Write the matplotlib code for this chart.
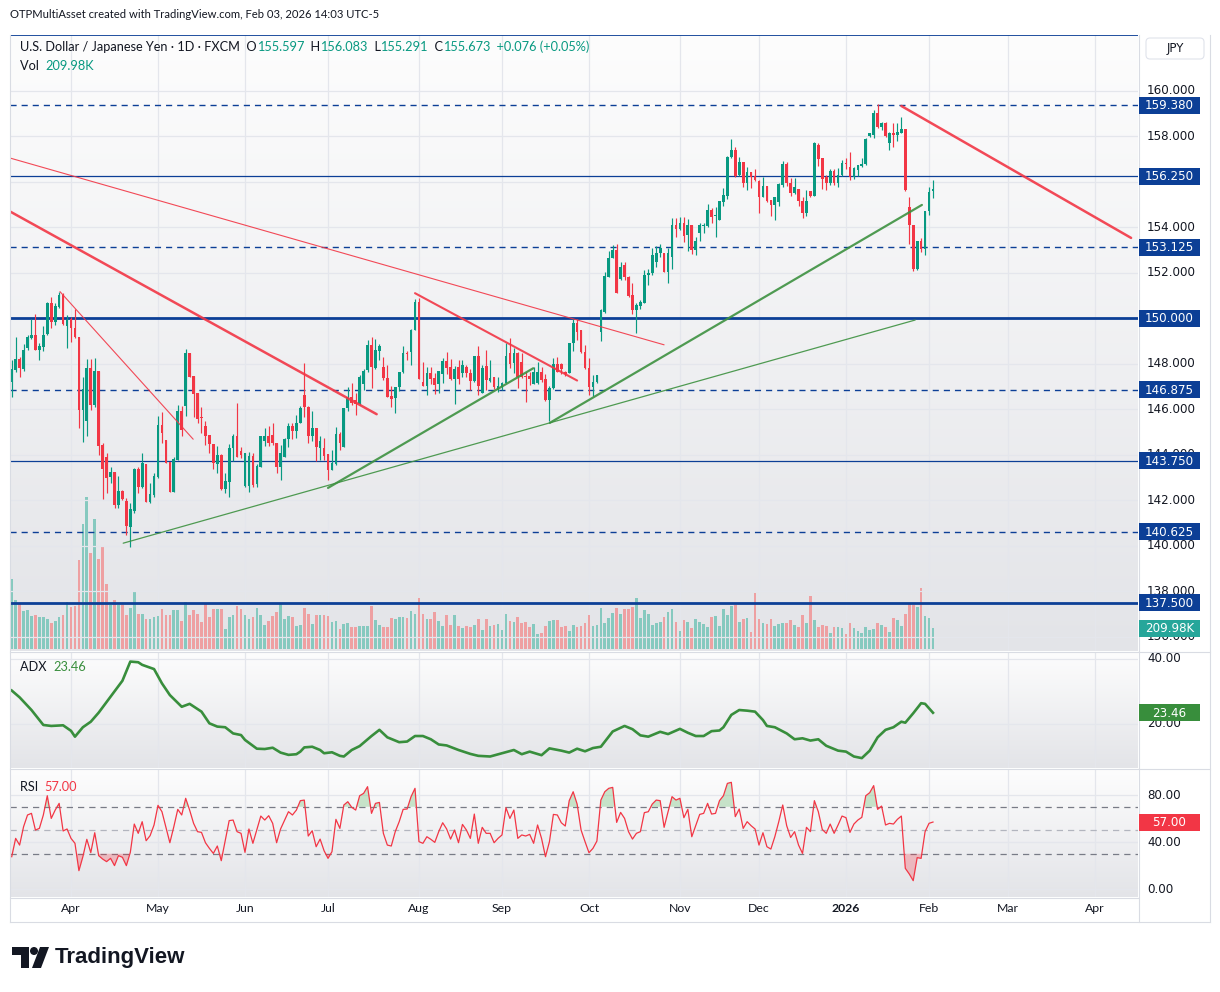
import numpy as np
import matplotlib.pyplot as plt
import matplotlib.transforms as mtransforms
from matplotlib.colors import LinearSegmentedColormap
from matplotlib.patches import Rectangle, Polygon, Circle, FancyBboxPatch
from matplotlib.lines import Line2D

# ---------------- data (USDJPY daily, FXCM, 2025-03-11 .. 2026-02-03) ----------------
opens = [147.22, 147.73, 148.20, 147.78, 148.69, 149.13, 149.27, 148.61, 148.76, 149.32,
         150.69, 149.86, 150.52, 151.03, 149.68, 149.96, 149.57, 149.20, 145.98, 145.51,
         147.84, 146.20, 147.70, 144.44, 143.92, 143.02, 143.27, 141.80, 142.43, 141.99,
         140.85, 141.55, 143.37, 142.58, 143.59, 141.95, 142.24, 143.05, 145.32, 144.66,
         143.71, 142.39, 143.78, 145.91, 146.13, 148.47, 147.47, 146.74, 145.63, 145.25,
         144.88, 144.48, 143.60, 144.00, 142.49, 142.83, 144.30, 144.84, 144.19, 142.64,
         142.65, 143.96, 142.73, 143.49, 144.59, 144.84, 144.88, 144.51, 143.46, 143.93,
         144.69, 145.28, 145.07, 145.42, 146.64, 146.10, 144.84, 145.17, 144.29, 144.29,
         144.04, 143.34, 143.60, 144.92, 144.37, 146.05, 146.54, 146.42, 146.24, 147.12,
         147.74, 148.83, 147.81, 148.59, 147.85, 147.37, 146.59, 146.49, 147.00, 147.66,
         148.50, 148.54, 149.47, 150.74, 147.22, 147.03, 147.62, 147.37, 147.12, 147.56,
         148.15, 147.85, 147.33, 147.85, 147.62, 147.85, 147.62, 147.27, 148.35, 146.74,
         147.91, 147.27, 147.44, 146.86, 147.00, 147.18, 148.47, 148.03, 148.50, 148.10,
         147.47, 147.47, 147.12, 147.15, 147.66, 147.33, 146.42, 146.93, 148.00, 148.00,
         147.66, 147.62, 148.91, 149.82, 149.47, 148.54, 147.81, 147.00, 147.22, 149.42,
         150.30, 151.84, 152.64, 153.01, 151.72, 152.35, 151.84, 151.03, 150.37, 150.55,
         150.70, 151.91, 151.99, 152.50, 152.86, 152.89, 152.06, 152.69, 154.11, 153.92,
         154.18, 153.67, 154.11, 153.01, 153.74, 154.07, 154.07, 154.77, 154.51, 154.33,
         155.14, 155.38, 157.08, 157.41, 156.31, 156.89, 155.97, 156.45, 156.26, 156.06,
         155.36, 155.82, 155.21, 154.99, 155.14, 155.87, 156.79, 155.94, 155.53, 155.68,
         155.18, 154.65, 155.62, 155.39, 157.63, 157.04, 156.21, 155.94, 156.50, 155.94,
         156.31, 156.85, 156.67, 156.21, 156.53, 156.70, 156.79, 158.02, 158.07, 159.02,
         158.40, 158.61, 157.73, 158.14, 158.07, 158.17, 158.31, 154.92, 154.11, 152.16,
         153.42, 153.04, 154.74, 155.597]
highs = [148.17, 149.17, 148.29, 148.88, 149.27, 149.96, 150.18, 148.91, 149.67, 150.74,
         150.96, 150.69, 151.18, 151.13, 150.15, 150.05, 150.40, 149.20, 147.41, 148.20,
         148.20, 148.25, 147.70, 144.51, 144.07, 143.48, 143.27, 143.08, 142.46, 142.09,
         141.90, 143.41, 143.48, 144.07, 143.60, 142.75, 143.19, 145.71, 145.90, 144.66,
         143.71, 143.93, 146.20, 146.15, 148.66, 148.47, 147.47, 146.74, 146.10, 145.51,
         144.88, 144.48, 144.40, 144.05, 143.19, 144.48, 144.92, 146.30, 144.34, 144.07,
         144.15, 144.07, 143.60, 144.84, 145.17, 145.28, 145.42, 144.51, 144.44, 144.73,
         145.39, 145.42, 145.76, 146.15, 148.03, 146.13, 145.95, 145.17, 144.81, 144.73,
         144.04, 144.22, 145.24, 145.02, 146.05, 146.97, 147.15, 146.71, 147.52, 147.77,
         149.03, 149.17, 149.08, 148.88, 148.29, 147.96, 147.03, 147.00, 147.66, 148.79,
         148.59, 149.52, 150.84, 150.89, 148.10, 147.85, 147.85, 147.59, 147.71, 148.25,
         148.54, 148.20, 147.91, 148.17, 148.17, 147.96, 147.77, 148.35, 148.79, 147.96,
         148.62, 148.18, 147.44, 147.44, 147.22, 148.91, 149.13, 148.69, 148.54, 148.47,
         147.66, 147.66, 147.85, 148.10, 147.88, 147.56, 147.03, 148.25, 148.32, 148.03,
         147.71, 148.94, 149.96, 149.96, 149.50, 148.84, 148.25, 147.52, 147.52, 150.40,
         152.06, 152.98, 153.23, 153.27, 152.50, 152.50, 151.87, 151.55, 150.70, 150.81,
         152.13, 152.16, 153.09, 153.19, 153.28, 152.89, 153.09, 154.40, 154.40, 154.45,
         154.48, 154.36, 154.11, 153.57, 154.18, 154.18, 155.03, 154.84, 154.89, 155.18,
         155.72, 157.14, 157.88, 157.55, 157.08, 156.89, 156.67, 156.45, 156.56, 156.09,
         156.21, 155.82, 155.21, 155.33, 155.97, 156.94, 156.89, 156.16, 156.16, 155.68,
         155.36, 155.65, 155.62, 157.77, 157.70, 157.04, 156.31, 156.56, 156.56, 156.60,
         156.97, 157.04, 157.33, 156.67, 156.75, 157.04, 157.92, 158.17, 159.16, 159.43,
         158.65, 158.65, 158.21, 158.58, 158.58, 158.87, 158.31, 155.36, 154.11, 153.42,
         153.52, 154.74, 155.77, 156.083]
lows = [146.56, 147.66, 147.44, 147.70, 148.61, 149.08, 148.61, 148.17, 148.58, 149.27,
        149.57, 149.71, 150.45, 149.71, 148.69, 148.98, 149.13, 145.17, 144.58, 144.83,
        145.98, 146.12, 144.00, 142.06, 142.31, 142.78, 141.65, 141.65, 142.02, 140.48,
        139.94, 141.46, 142.31, 142.53, 141.95, 141.90, 142.17, 142.97, 144.51, 143.63,
        142.39, 142.39, 143.78, 144.84, 145.71, 147.41, 145.66, 145.39, 144.95, 144.44,
        144.07, 143.37, 143.19, 142.46, 142.32, 142.17, 143.75, 143.93, 143.85, 142.61,
        142.39, 142.61, 142.61, 143.49, 144.40, 144.40, 144.44, 143.22, 142.90, 143.93,
        144.37, 144.69, 144.73, 145.39, 145.66, 144.51, 144.59, 143.75, 143.78, 143.78,
        142.90, 143.34, 143.56, 144.22, 144.37, 145.91, 146.20, 145.76, 146.20, 146.86,
        147.66, 146.93, 147.77, 148.17, 147.30, 146.56, 146.12, 145.86, 146.83, 147.62,
        148.17, 147.96, 149.47, 147.33, 147.03, 146.64, 147.12, 146.68, 146.74, 147.18,
        147.56, 147.30, 146.24, 147.12, 147.44, 147.44, 146.86, 147.22, 146.64, 146.71,
        146.86, 147.22, 146.89, 146.78, 146.86, 147.15, 147.81, 147.59, 146.93, 147.37,
        146.34, 147.08, 147.12, 147.12, 147.22, 146.39, 145.47, 146.89, 147.66, 147.56,
        147.47, 147.59, 148.59, 149.05, 148.50, 147.77, 146.64, 146.59, 147.18, 149.02,
        150.26, 151.81, 152.64, 151.11, 151.69, 151.69, 150.96, 150.20, 149.38, 150.40,
        150.67, 151.47, 151.91, 152.25, 152.72, 152.02, 151.55, 152.16, 153.60, 153.89,
        153.38, 152.98, 152.83, 152.79, 153.42, 153.77, 154.04, 154.18, 153.60, 154.33,
        154.95, 155.24, 157.04, 156.23, 156.26, 155.79, 155.65, 155.72, 156.06, 154.65,
        155.33, 155.14, 154.51, 154.33, 154.95, 155.79, 155.82, 155.39, 155.47, 154.94,
        154.40, 154.51, 155.36, 155.39, 156.70, 155.68, 155.65, 155.87, 155.87, 155.77,
        156.26, 156.56, 156.09, 156.12, 156.26, 156.67, 156.75, 157.99, 157.92, 158.36,
        158.29, 157.99, 157.41, 157.55, 157.80, 158.14, 155.62, 153.27, 152.10, 152.13,
        152.94, 152.79, 154.55, 155.291]
closes = [147.76, 148.20, 147.81, 148.61, 149.17, 149.27, 148.61, 148.79, 149.27, 150.69,
          149.86, 150.55, 151.03, 149.76, 149.93, 149.57, 149.20, 145.98, 146.90, 147.84,
          146.20, 147.70, 144.39, 143.37, 143.00, 143.27, 141.80, 142.43, 142.06, 140.88,
          141.61, 143.37, 142.58, 143.66, 141.95, 142.28, 143.08, 145.32, 144.95, 143.66,
          142.39, 143.81, 145.91, 145.10, 148.47, 147.44, 146.68, 145.57, 145.61, 144.84,
          144.48, 143.63, 144.00, 142.49, 142.87, 144.30, 144.84, 143.93, 144.00, 144.07,
          143.96, 142.68, 143.52, 144.84, 144.84, 144.54, 144.51, 143.46, 144.07, 144.69,
          145.28, 145.07, 145.42, 146.05, 146.10, 144.84, 145.17, 144.34, 144.63, 143.96,
          143.34, 143.66, 144.92, 144.51, 146.05, 146.54, 146.30, 146.24, 147.44, 147.71,
          148.83, 147.85, 148.61, 148.79, 147.37, 146.56, 146.48, 147.00, 147.66, 148.50,
          148.44, 149.49, 150.74, 147.33, 147.03, 147.62, 147.33, 147.08, 147.71, 148.15,
          147.81, 147.33, 147.77, 147.33, 147.96, 147.62, 147.27, 148.35, 147.03, 147.81,
          147.30, 147.37, 147.00, 147.03, 147.18, 148.35, 148.00, 148.50, 147.44, 147.44,
          147.44, 147.33, 147.66, 147.66, 147.30, 146.42, 146.93, 148.00, 147.66, 147.77,
          147.56, 148.91, 149.82, 149.42, 148.54, 147.81, 147.00, 147.22, 147.52, 150.35,
          151.87, 152.64, 153.01, 151.11, 152.25, 151.84, 150.99, 150.37, 150.59, 150.74,
          151.91, 151.99, 152.79, 152.86, 153.09, 152.06, 152.89, 154.11, 153.92, 154.18,
          153.63, 154.11, 153.01, 153.42, 154.11, 154.11, 154.77, 154.48, 154.51, 155.18,
          155.43, 157.11, 157.41, 156.26, 156.89, 155.94, 156.45, 156.21, 156.09, 155.36,
          155.82, 155.18, 154.99, 155.33, 155.91, 156.79, 155.94, 155.53, 155.77, 155.18,
          154.65, 155.18, 155.39, 157.70, 156.99, 156.12, 155.94, 156.50, 155.94, 156.31,
          156.85, 156.79, 156.23, 156.60, 156.75, 156.79, 157.88, 158.14, 159.02, 158.40,
          158.61, 158.02, 158.14, 158.07, 158.21, 158.31, 155.65, 154.11, 152.16, 153.42,
          153.04, 154.74, 155.58, 155.673]
volumes_k = [700, 490, 463, 380, 390, 330, 340, 323, 323, 300, 263, 280, 323, 340, 473, 423,
             430, 890, 1250, 1520, 963, 1300, 897, 1030, 650, 440, 490, 440, 440, 340, 413, 583,
             350, 350, 300, 300, 317, 330,
             400, 340, 340, 390, 390, 280, 470, 340, 390, 350, 270, 450, 320, 400, 400, 400,
             200, 320, 340, 430, 400, 340, 300, 320, 410, 340, 240, 280, 330, 370, 450, 300,
             330, 320, 230, 240, 410, 350, 250, 340, 340, 340, 330, 270, 280, 200, 250, 260,
             220, 220, 230, 230, 230, 430, 290, 240, 220, 220, 310, 300, 320, 320, 310, 380,
             350, 510, 350, 300, 300, 370, 280, 230, 340, 240, 340, 230, 210, 230,
             220, 240, 300, 190, 300, 230, 240, 250, 190, 350, 280, 270, 320, 260, 270, 220,
             250, 150, 160, 230, 280, 290, 290, 220, 230, 180, 240, 220, 230, 260, 340, 230,
             240, 410, 260, 310, 360, 410, 350, 400, 400,
             420, 510, 310, 390, 350, 240, 260, 270, 320, 370, 400, 270, 180, 290, 270, 210,
             300, 270, 250, 220, 320, 330, 230, 400, 340, 430, 440, 270, 300, 310, 170, 560,
             300, 260, 250, 300, 230, 250, 260, 260, 290, 240, 220, 340, 260, 530, 290, 220,
             240, 230, 160, 220, 220, 210, 150, 260, 210, 180, 160, 220, 190, 200, 260, 240,
             220, 170, 310, 290, 230, 350, 460, 440, 420, 610, 330, 310, 209.98]

adx_bars = [0, 2, 5, 8, 10, 13, 15, 16, 18, 20, 22, 25, 28, 30, 32, 33, 36, 38, 40, 43, 45,
            48, 50, 52, 54, 56, 58, 59, 62, 64, 66, 68, 70, 72, 73, 74, 76, 78, 79, 81, 83,
            84, 86, 88, 91, 93, 95, 98, 100, 102, 104, 106, 108, 110, 113, 116, 118, 121, 124,
            127, 129, 131, 134, 136, 139, 141, 143, 145, 147, 149, 152, 155, 157, 159, 161,
            164, 166, 169, 171, 173, 175, 177, 179, 180, 182, 184, 186, 188, 190, 191, 193,
            196, 198, 200, 202, 204, 206, 209, 211, 213, 215, 217, 219, 221, 223, 225, 226,
            228, 230, 231, 233]
adx_vals = [30.3, 28.2, 24.3, 19.7, 19.4, 19.6, 17.9, 16.1, 19.0, 20.7, 23.5, 28.4, 33.3,
            39.2, 39.0, 38.2, 36.9, 32.5, 28.9, 25.3, 26.2, 23.8, 20.2, 19.2, 19.0, 17.1, 16.6,
            15.1, 12.4, 12.3, 12.7, 11.2, 10.5, 10.7, 11.5, 12.8, 13.0, 12.0, 11.0, 11.3, 10.2,
            10.0, 12.0, 13.2, 16.3, 18.2, 15.9, 14.4, 14.6, 16.3, 16.3, 15.3, 13.7, 13.4, 12.0,
            10.8, 10.2, 10.0, 11.0, 12.0, 10.7, 11.5, 10.4, 12.5, 11.8, 11.2, 12.4, 11.6, 12.6,
            13.0, 17.7, 19.4, 18.4, 16.5, 16.1, 17.6, 16.9, 18.5, 17.3, 16.3, 16.3, 17.8, 18.0,
            19.0, 22.8, 24.3, 24.1, 23.8, 21.2, 19.4, 19.0, 17.1, 15.3, 15.6, 14.9, 15.3, 13.3,
            11.8, 11.5, 10.0, 9.5, 11.8, 15.9, 18.2, 19.0, 20.7, 20.4, 23.3, 26.4, 26.2, 23.46]

rsi_bars = [b for b in range(234) if b not in (39, 54, 62, 69)]
rsi_vals = [27.5, 43.1, 37.4, 53.0, 63.0, 64.4, 50.2, 51.6, 63.0, 79.4, 60.1, 67.2, 72.9,
            49.4, 51.1, 43.1, 38.9, 15.6, 27.5, 42.3, 31.0, 47.9, 28.4, 25.5, 23.3, 26.1, 19.9,
            28.4, 27.0, 19.9, 31.2, 55.3, 47.4, 57.3, 41.1, 45.4, 54.5, 71.2, 65.8,
            39.4, 53.0, 67.8, 63.0, 77.2, 67.2, 55.9, 48.8, 48.2, 39.4, 34.6, 30.3, 36.6, 24.1,
            58.2, 58.7, 48.8, 47.4, 31.2, 51.1, 38.9,
            62.1, 58.7, 62.4, 55.9, 39.4, 51.1,
            65.8, 63.0, 67.2, 75.2, 75.7, 45.1, 49.6, 36.0, 42.5, 32.6, 26.1, 31.8, 59.3, 51.6,
            71.5, 74.3, 69.5, 67.2, 79.4, 81.4, 87.1, 64.4, 72.9, 73.7, 47.4, 37.4, 36.6, 48.8,
            57.3, 67.8, 68.1, 78.6, 85.7, 40.3, 38.9, 44.5, 42.3, 39.7, 48.8, 56.4, 51.1, 42.5,
            50.2, 39.4, 55.0, 50.2, 43.1, 63.8,
            38.9, 52.5, 47.4, 47.4, 39.4, 43.1, 46.0, 69.2, 60.1, 67.2, 43.1, 46.0, 45.1, 46.5,
            38.9, 54.5, 43.1, 27.5, 40.3, 63.5, 63.0, 56.4, 53.6, 75.2, 82.8, 72.3, 50.2, 40.3,
            30.9, 34.6, 40.8, 75.7, 82.8, 85.7, 86.5, 56.7, 65.2, 60.1, 48.8, 42.5, 47.4, 48.8,
            65.0, 65.8, 72.3, 75.7, 75.2, 52.5, 65.8, 78.6, 75.7, 77.2, 60.7, 67.8, 44.5, 53.9,
            63.5, 64.4, 72.9, 63.8, 64.4, 75.2, 79.4, 89.9, 90.8, 61.6, 68.1, 51.6, 57.3, 53.9,
            51.1, 37.4, 47.9, 36.0, 34.0, 44.5, 57.3, 71.5, 53.9, 43.9, 48.8, 37.4, 30.3, 52.5,
            48.8, 75.2, 65.8, 50.7, 47.4, 55.3, 47.4, 54.5, 62.1, 60.7, 48.2, 55.3, 58.7, 61.0,
            79.4, 82.0, 88.0, 67.8, 70.6, 54.5, 55.9, 55.3, 59.3, 62.1, 17.6, 12.8, 7.1, 26.7,
            26.1, 48.8, 55.9, 57.0]

# octave levels (3.125 steps)
levels_major = [162.5, 150.0, 137.5]
levels_minor = [156.25, 143.75]
levels_dashed = [159.38, 153.125, 146.875, 140.625]

# drawn trend lines: (bar, price) anchors
red_heavy = [[(-0.4, 154.70), (92.3, 145.79)], [(225.0, 159.34), (283.1, 153.54)]]
red_medium = [[(102.0, 151.11), (143.0, 147.27)]]
red_light = [[(-0.4, 157.05), (165.0, 148.84)], [(12.2, 151.18), (45.9, 144.69)]]
green_heavy = [[(80.0, 142.55), (131.9, 147.81)], [(136.1, 145.41), (230.2, 154.99)]]
green_light = [[(28.2, 140.12), (136.1, 145.41)], [(136.1, 145.41), (228.5, 149.93)]]

month_labels = ['Apr', 'May', 'Jun', 'Jul', 'Aug', 'Sep', 'Oct', 'Nov', 'Dec', '2026',
                'Feb', 'Mar', 'Apr']
month_bars = [15, 37, 59, 80, 103, 124, 146, 169, 189, 211, 232, 252, 274]

price_grid = [160, 158, 156, 154, 152, 150, 148, 146, 144, 142, 140, 138, 136]
price_labels = [160, 158, 154, 152, 148, 146, 144, 142, 140, 138, 136]

# ---------------- figure ----------------
W, H = 1220, 992
fig = plt.figure(figsize=(W / 100, H / 100), dpi=100)
fig.patch.set_facecolor('white')
ID = mtransforms.IdentityTransform()
PX = mtransforms.Affine2D().scale(1, -1).translate(0, H)   # pixel coords, y from top

UP, DOWN = '#089981', '#f23645'
NAVY = '#0c3f96'
TXT = '#131722'
GRID = '#e4e6ec'
BORDER = '#d9dce3'
NUMFONT = 'DejaVu Sans'
UIFONT = ['Lato', 'DejaVu Sans']


def px_rect(x0, y0, x1, y1):
    return [x0 / W, 1 - y1 / H, (x1 - x0) / W, (y1 - y0) / H]


ax_vol = fig.add_axes(px_rect(10, 35, 1138, 651))
ax = fig.add_axes(px_rect(10, 35, 1138, 651), sharex=ax_vol)
ax_adx = fig.add_axes(px_rect(10, 652, 1138, 768), sharex=ax_vol)
ax_rsi = fig.add_axes(px_rect(10, 770, 1138, 897), sharex=ax_vol)
ax.patch.set_visible(False)

pane_cmap = LinearSegmentedColormap.from_list('pane', ['#e3e4e8', '#fdfdfd'])
for a in (ax_vol, ax_adx, ax_rsi):
    a.imshow(np.linspace(0, 1, 256).reshape(-1, 1), cmap=pane_cmap, extent=(0, 1, 0, 1),
             transform=a.transAxes, aspect='auto', origin='lower', zorder=-10,
             interpolation='bicubic')

XMIN, XMAX = -0.43, 284.85
for a in (ax_vol, ax, ax_adx, ax_rsi):
    a.set_xlim(XMIN, XMAX)
    a.set_xticks([])
    a.set_yticks([])
    for s in a.spines.values():
        s.set_visible(False)
ax.set_ylim(135.38, 162.46)
ax_vol.set_ylim(-20, 6140)
ax_adx.set_ylim(6.46, 42.15)
ax_rsi.set_ylim(-6.8, 101.3)

# grid
for b in month_bars:
    for a in (ax_vol, ax_adx, ax_rsi):
        a.axvline(b, color=GRID, lw=0.9, zorder=-5)
for p in price_grid:
    ax.axhline(p, color=GRID, lw=0.9, zorder=0)
for v in (20, 40):
    ax_adx.axhline(v, color=GRID, lw=0.9, zorder=0)
for v in (0, 40, 80):
    ax_rsi.axhline(v, color=GRID, lw=0.9, zorder=0)

# volume
idx = np.arange(len(closes))
o, hi, lo, c = map(np.array, (opens, highs, lows, closes))
up = c >= o
ax_vol.bar(idx, volumes_k, width=0.68, color=np.where(up, '#86c9bf', '#eea0a2'),
           linewidth=0, zorder=1)

# candles
col = np.where(up, UP, DOWN)
ax.vlines(idx, lo, hi, colors=col, lw=0.85, zorder=4)
ax.bar(idx, np.maximum(np.abs(c - o), 0.04), bottom=np.minimum(o, c), width=0.68,
       color=col, linewidth=0, zorder=5)

# octave levels
for p in levels_major:
    ax.axhline(p, color=NAVY, lw=2.0, zorder=3)
for p in levels_minor:
    ax.axhline(p, color=NAVY, lw=0.9, zorder=3)
for p in levels_dashed:
    ax.axhline(p, color=NAVY, lw=1.0, ls=(0, (4.4, 3.6)), zorder=3)

# trend lines
for group, color, lw in ((red_heavy, '#f23645', 1.8), (red_medium, '#f23645', 1.5),
                         (red_light, '#f23645', 0.8), (green_heavy, '#3d9140', 1.6),
                         (green_light, '#3d9140', 0.9)):
    for seg in group:
        xs, ys = zip(*seg)
        ax.plot(xs, ys, color=color, lw=lw, solid_capstyle='round', zorder=6, alpha=0.9)

# ADX
ax_adx.plot(adx_bars, adx_vals, color='#388e3c', lw=1.9, zorder=3)

# RSI
rb, rv = np.array(rsi_bars), np.array(rsi_vals)
ax_rsi.axhline(70, color='#787b86', lw=0.9, ls=(0, (5, 4)), zorder=1)
ax_rsi.axhline(30, color='#787b86', lw=0.9, ls=(0, (5, 4)), zorder=1)
ax_rsi.axhline(50, color='#b2b5be', lw=0.9, ls=(0, (5, 4)), zorder=1)
ax_rsi.fill_between(rb, rv, 70, where=rv > 70, interpolate=True, color='#4caf50',
                    alpha=0.28, lw=0, zorder=2)
ax_rsi.fill_between(rb, rv, 30, where=rv < 30, interpolate=True, color='#f23645',
                    alpha=0.28, lw=0, zorder=2)
ax_rsi.plot(rb, rv, color='#f23645', lw=0.9, zorder=3)

# ---------------- borders / separators ----------------
for (x0, y0, x1, y1) in ((10, 651.5, 1210, 651.5), (10, 769, 1210, 769),
                         (10, 922, 1210, 922), (1138.5, 35, 1138.5, 922),
                         (10, 35, 10, 922), (1210, 35, 1210, 922), (10, 897.5, 1138, 897.5)):
    fig.add_artist(Line2D([x0, x1], [y0, y1], transform=PX, color=BORDER, lw=0.8, zorder=2))

# ---------------- right price scale ----------------
def axis_label(a, val, text):
    yd = a.transData.transform((0, val))[1]
    fig.text(1147, yd, text, transform=ID, ha='left', va='center', color=TXT,
             fontsize=8.6, family=NUMFONT, zorder=4)


def value_box(a, val, text, fc):
    yd = a.transData.transform((0, val))[1]
    fig.add_artist(Rectangle((1139, yd - 8.5), 61, 17, transform=ID, fc=fc, ec='none',
                             zorder=5))
    fig.text(1169.5, yd - 0.5, text, transform=ID, ha='center', va='center', color='white',
             fontsize=8.6, family=NUMFONT, zorder=6)


for p in price_labels:
    axis_label(ax, p, f'{p:.3f}')
for p in sorted(levels_dashed + levels_minor + levels_major):
    if p < 162:
        value_box(ax, p, f'{p:.3f}', NAVY)
value_box(ax_vol, volumes_k[-1], f'{volumes_k[-1]:.2f}K', '#26a69a')
for v in (40, 20):
    axis_label(ax_adx, v, f'{v:.2f}')
value_box(ax_adx, adx_vals[-1], f'{adx_vals[-1]:.2f}', '#388e3c')
for v in (80, 40, 0):
    axis_label(ax_rsi, v, f'{v:.2f}')
value_box(ax_rsi, rsi_vals[-1], f'{rsi_vals[-1]:.2f}', '#f23645')

fig.add_artist(FancyBboxPatch((1146, 38), 58, 21, boxstyle='round,pad=0,rounding_size=4',
                              transform=PX, fc='white', ec='#e0e3eb', lw=0.8, zorder=5))
fig.text(1175, 48.5, 'JPY', transform=PX, ha='center', va='center', color=TXT,
         fontsize=8.6, family=NUMFONT, zorder=6)

# time axis
tx = mtransforms.blended_transform_factory(ax_rsi.transData, PX)
for b, lab in zip(month_bars, month_labels):
    fig.text(b, 909, lab, transform=tx, ha='center', va='center', color=TXT, fontsize=8.8,
             family=UIFONT, fontweight='bold' if lab == '2026' else 'normal')

# ---------------- header texts ----------------
renderer = fig.canvas.get_renderer()


def seq_text(x, y, parts, size=8.6, gap=0.0):
    for s, color in parts:
        t = fig.text(x, y, s, transform=PX, ha='left', va='center', color=color,
                     fontsize=size, family=UIFONT, zorder=7)
        x += t.get_window_extent(renderer=renderer).width + gap


seq_text(10, 15, [('OTPMultiAsset created with TradingView.com, Feb 03, 2026 14:03 UTC-5', TXT)],
         size=8.1)
seq_text(20, 47, [('U.S. Dollar / Japanese Yen · 1D · FXCM  O', TXT), ('155.597', UP),
                  ('  H', TXT), ('156.083', UP), ('  L', TXT), ('155.291', UP),
                  ('  C', TXT), ('155.673', UP), ('  +0.076 (+0.05%)', UP)], size=9.2)
seq_text(20, 66, [('Vol  ', TXT), ('209.98K', UP)], size=9.2)
seq_text(20, 667, [('ADX  ', TXT), (f'{adx_vals[-1]:.2f}', '#388e3c')], size=9.2)
seq_text(20, 787, [('RSI  ', TXT), (f'{rsi_vals[-1]:.2f}', '#f23645')], size=9.2)

# ---------------- TradingView logo ----------------
fig.add_artist(Polygon([(12, 947), (29, 947), (29, 968), (21, 968), (21, 955), (12, 955)],
                       closed=True, transform=PX, fc=TXT, ec='none'))
fig.add_artist(Circle((34, 951), 4, transform=PX, fc=TXT, ec='none'))
fig.add_artist(Polygon([(40, 947), (49, 947), (41, 968), (32, 968)], closed=True,
                       transform=PX, fc=TXT, ec='none'))
fig.text(55, 958, 'TradingView', transform=PX, ha='left', va='center', color=TXT,
         fontsize=16, fontweight='bold', family=['Liberation Sans', 'DejaVu Sans'])

fig.savefig('out.png', dpi=100, facecolor='white')
